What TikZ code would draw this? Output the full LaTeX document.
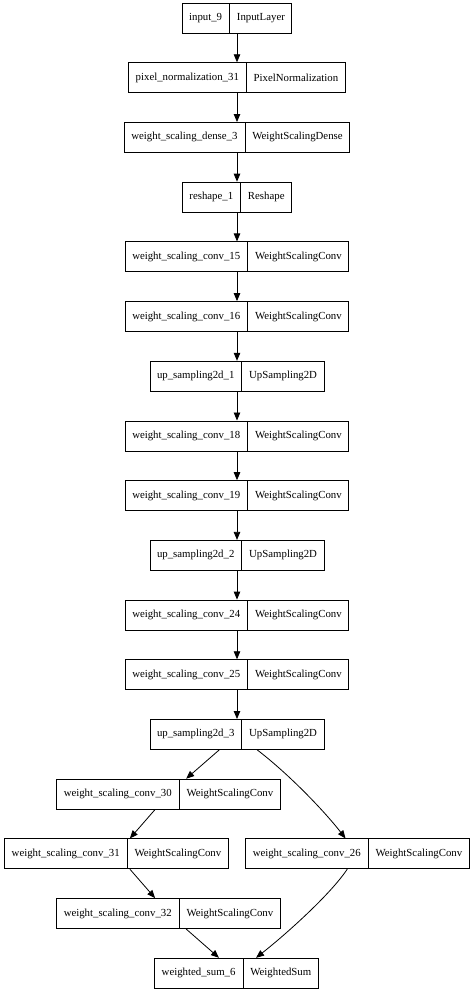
\documentclass[tikz,border=0pt]{standalone}
\usepackage{fontspec}
\setmainfont{Liberation Serif}
\usetikzlibrary{positioning, arrows.meta, shapes.multipart}

\tikzset{
    layer/.style={draw, line width=0.8pt, rectangle split, rectangle split horizontal,
        rectangle split parts=2, inner xsep=7pt, minimum height=30pt,
        font=\fontsize{10.8}{12}\selectfont},
    flow/.style={line width=0.8pt, -{Triangle[length=8pt, width=6.5pt]}}
}

\begin{document}
\begin{tikzpicture}[x=1pt, y=1pt]
        \useasboundingbox (0,0) rectangle (474,-991);
        % main column
        \foreach \name/\lname/\cname [count=\i from 0] in {
                in9/input\_9/InputLayer,
                pn31/pixel\_normalization\_31/PixelNormalization,
                wsd3/weight\_scaling\_dense\_3/WeightScalingDense,
                rs1/reshape\_1/Reshape,
                wsc15/weight\_scaling\_conv\_15/WeightScalingConv,
                wsc16/weight\_scaling\_conv\_16/WeightScalingConv,
                us1/up\_sampling2d\_1/UpSampling2D,
                wsc18/weight\_scaling\_conv\_18/WeightScalingConv,
                wsc19/weight\_scaling\_conv\_19/WeightScalingConv,
                us2/up\_sampling2d\_2/UpSampling2D,
                wsc24/weight\_scaling\_conv\_24/WeightScalingConv,
                wsc25/weight\_scaling\_conv\_25/WeightScalingConv,
                us3/up\_sampling2d\_3/UpSampling2D} {
            \node[layer] (\name) at (237, -18-59.7*\i) {\lname \nodepart{two} \cname};
        }
        % branches
        \node[layer] (wsc30) at (168.5, -18-59.7*13) {weight\_scaling\_conv\_30 \nodepart{two} WeightScalingConv};
        \node[layer] (wsc31) at (116.5, -18-59.7*14) {weight\_scaling\_conv\_31 \nodepart{two} WeightScalingConv};
        \node[layer] (wsc26) at (357.5, -18-59.7*14) {weight\_scaling\_conv\_26 \nodepart{two} WeightScalingConv};
        \node[layer] (wsc32) at (168.5, -18-59.7*15) {weight\_scaling\_conv\_32 \nodepart{two} WeightScalingConv};
        \node[layer] (ws6) at (236.5, -18-59.7*16) {weighted\_sum\_6 \nodepart{two} WeightedSum};

        \foreach \a/\b in {in9/pn31, pn31/wsd3, wsd3/rs1, rs1/wsc15, wsc15/wsc16, wsc16/us1,
                us1/wsc18, wsc18/wsc19, wsc19/us2, us2/wsc24, wsc24/wsc25, wsc25/us3,
                us3/wsc30, wsc30/wsc31, wsc31/wsc32, wsc32/ws6} {
            \draw[flow] (\a) -- (\b);
        }
        \draw[flow] (us3) .. controls (290,-775) and (325,-812) .. (wsc26);
        \draw[flow] (wsc26) .. controls (330,-895) and (285,-935) .. (ws6);
    \end{tikzpicture}
\end{document}
